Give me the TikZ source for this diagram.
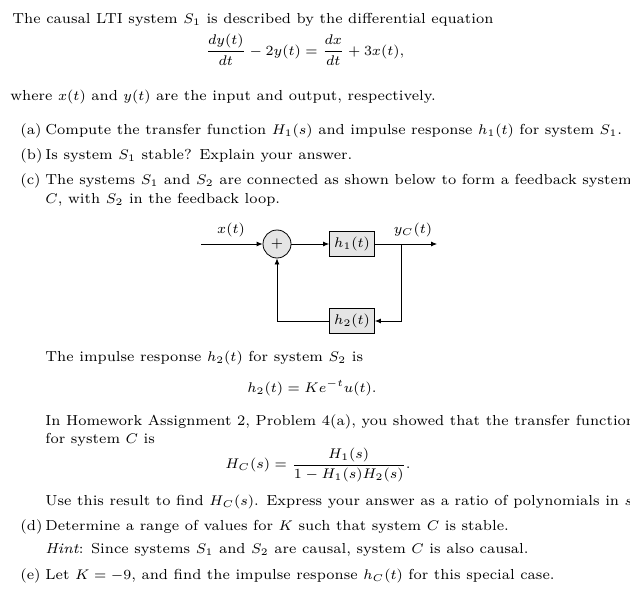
\documentclass[tikz,border=0pt]{standalone}
\usepackage{amsmath}
\usetikzlibrary{arrows.meta}
\begin{document}
\begin{tikzpicture}[x=0.5pt,y=-0.5pt,
  every node/.append style={font=\fontsize{7.25}{9}\selectfont},
  txt/.style={anchor=west,inner sep=0pt},
  blk/.style={draw,fill=black!10,minimum width=22.5pt,minimum height=12.5pt,inner sep=1pt},
  arr/.style={-{Latex[length=3pt,width=2.5pt]},line width=0.4pt}]
\useasboundingbox (0,0) rectangle (630,593);
\node[txt] (l1) at (12,20) {The causal LTI system $S_1$ is described by the differential equation};
\node (e1) at (305,50) {$\dfrac{dy(t)}{dt}-2y(t)=\dfrac{dx}{dt}+3x(t),$};
\node[txt] (l2) at (10,97) {where $x(t)$ and $y(t)$ are the input and output, respectively.};
\node[txt] (na) at (20,131) {(a)};
\node[txt] (la) at (45,131) {Compute the transfer function $H_1(s)$ and impulse response $h_1(t)$ for system $S_1$.};
\node[txt] (nb) at (20,156) {(b)};
\node[txt] (lb) at (45,156) {Is system $S_1$ stable? Explain your answer.};
\node[txt] (nc) at (20,181) {(c)};
\node[txt] (lc) at (45,181) {The systems $S_1$ and $S_2$ are connected as shown below to form a feedback system};
\node[txt] (lc2) at (45,200) {$C$, with $S_2$ in the feedback loop.};
% diagram
\coordinate (in) at (201,244);
\node[draw,circle,fill=black!10,minimum size=14pt,inner sep=0pt] (sum) at (277,244) {$+$};
\node[blk] (h1) at (352,244) {$h_1(t)$};
\node[blk] (h2) at (352,321) {$h_2(t)$};
\coordinate (out) at (437,244);
\coordinate (br) at (401,244);
\node (xl) at (231,230) {$x(t)$};
\node (yl) at (413,230) {$y_C(t)$};
\draw[arr] (in) -- (sum);
\draw[arr] (sum) -- (h1);
\draw[arr] (h1) -- (out);
\draw[arr] (br) |- (h2);
\draw[arr] (h2) -| (sum);
\node[txt] (l3) at (45,358) {The impulse response $h_2(t)$ for system $S_2$ is};
\node (e2) at (312,388) {$h_2(t)=Ke^{-t}u(t).$};
\node[txt] (l4) at (45,422) {In Homework Assignment 2, Problem 4(a), you showed that the transfer function};
\node[txt] (l5) at (45,440) {for system $C$ is};
\node (e3) at (318,465) {$H_C(s)=\dfrac{H_1(s)}{1-H_1(s)H_2(s)}.$};
\node[txt] (l6) at (45,502) {Use this result to find $H_C(s)$. Express your answer as a ratio of polynomials in $s$.};
\node[txt] (nd) at (20,527) {(d)};
\node[txt] (ld) at (45,527) {Determine a range of values for $K$ such that system $C$ is stable.};
\node[txt] (lh) at (45,550) {\textit{Hint}: Since systems $S_1$ and $S_2$ are causal, system $C$ is also causal.};
\node[txt] (ne) at (20,576) {(e)};
\node[txt] (le) at (45,576) {Let $K=-9$, and find the impulse response $h_C(t)$ for this special case.};
\end{tikzpicture}
\end{document}
